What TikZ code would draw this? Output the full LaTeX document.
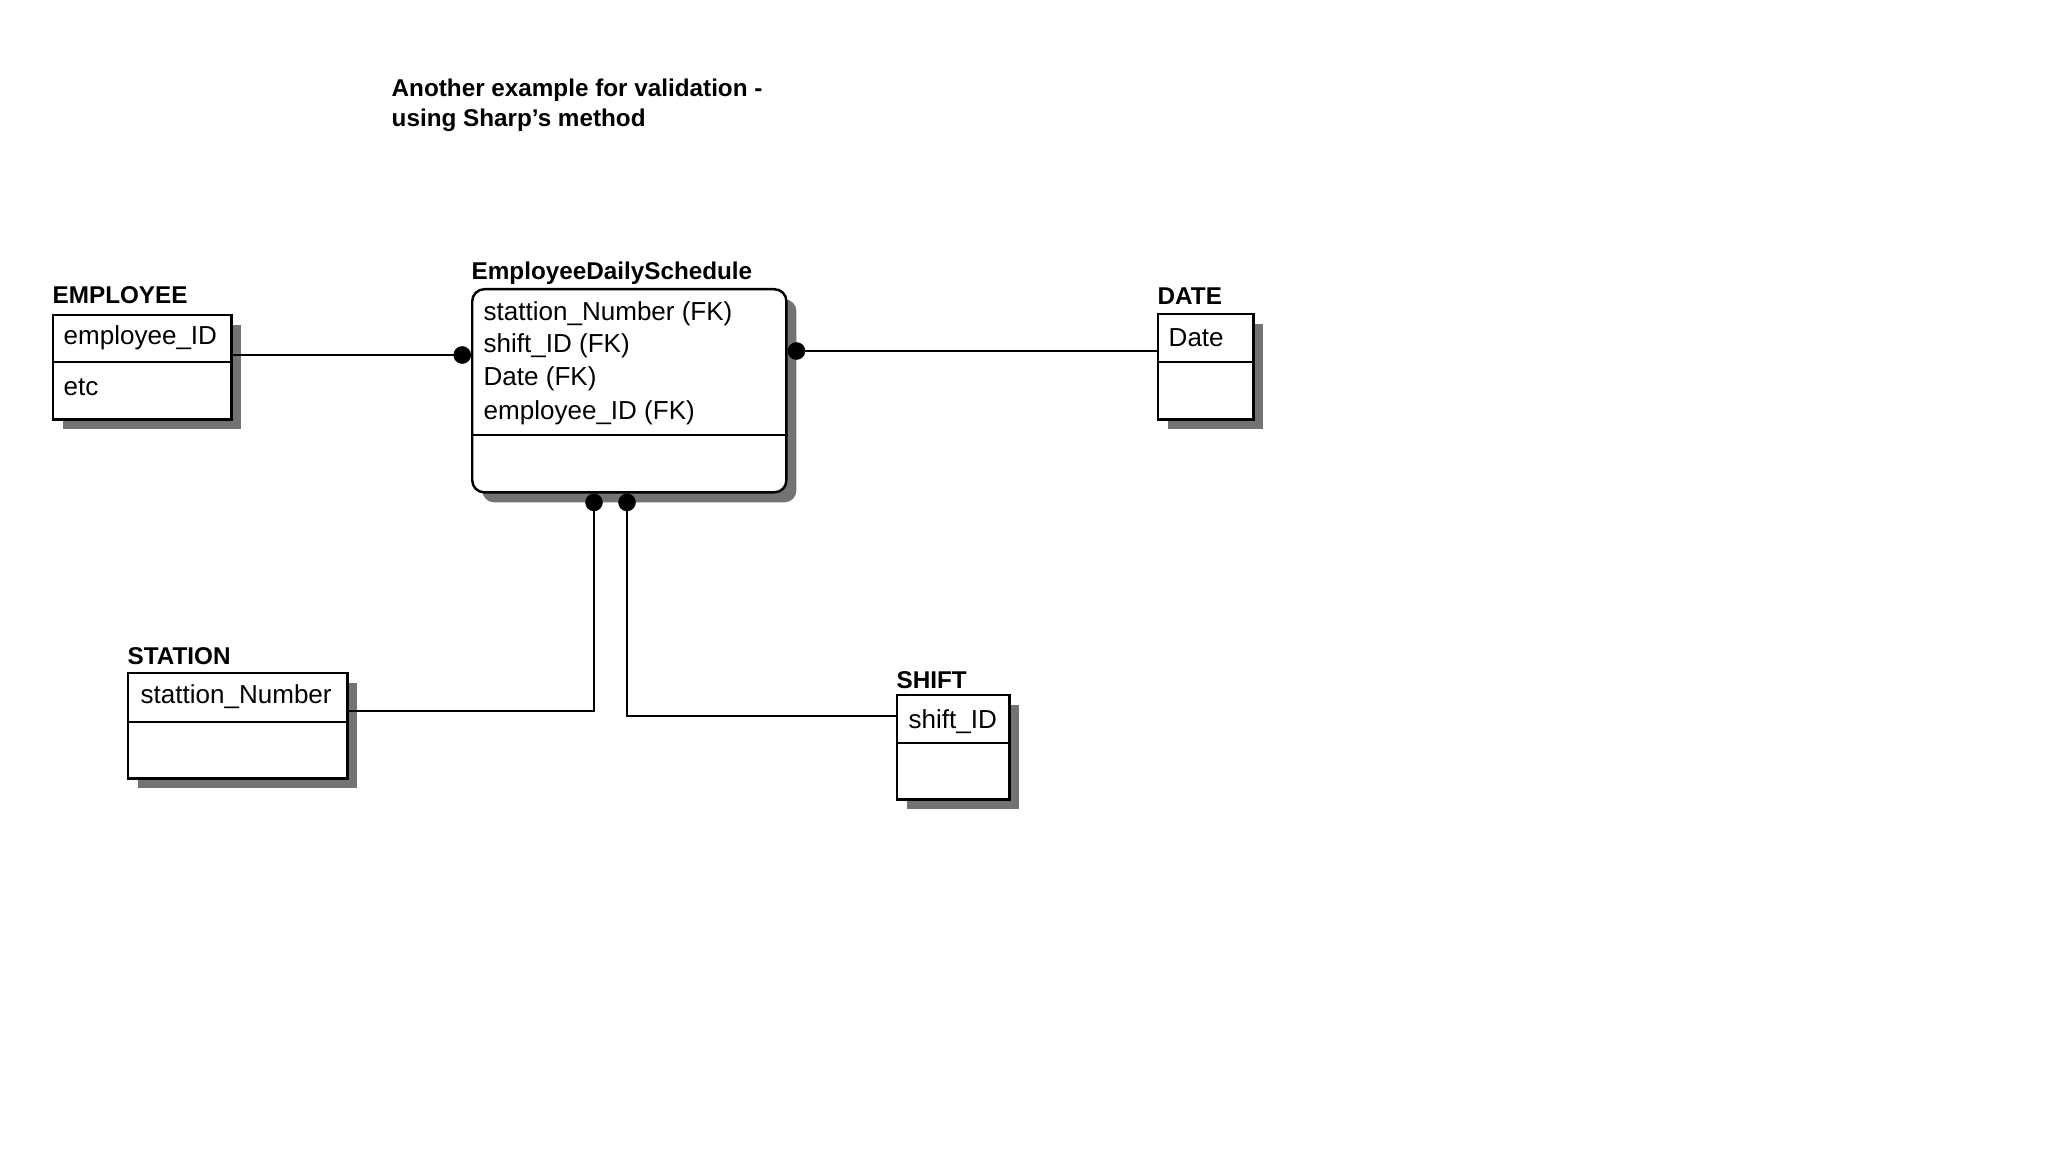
\documentclass[tikz,border=0pt]{standalone}
\usepackage{fontspec}
\setmainfont{Liberation Sans}
\usetikzlibrary{arrows.meta,shadows}

\tikzset{
  entity/.style={draw,line width=0.7pt,fill=white,inner sep=0,anchor=north west,
    drop shadow={shadow xshift=0.1cm,shadow yshift=-0.1cm,fill=black!55,opacity=1}},
  ename/.style={anchor=base west,inner sep=0,font=\fontsize{6.9}{8.5}\selectfont\bfseries},
  attr/.style={anchor=west,inner sep=0,font=\fontsize{7.4}{9}\selectfont},
  rel/.style={line width=0.6pt},
  erdot/.tip={Circle[length=5pt,width=5pt]}
}

\begin{document}
\begin{tikzpicture}[x=0.01cm,y=-0.01cm]
\useasboundingbox[fill=white] (0,0) rectangle (2046,1167);

\node[ename,anchor=north west,align=left] (title) at (391,78)
  {Another example for validation -\\using Sharp's method};

% entities
\node[entity,minimum width=1.78cm,minimum height=1.04cm] (emp) at (52,314) {};
\node[entity,rounded corners=0.12cm,minimum width=3.14cm,minimum height=2.03cm] (eds) at (471,288) {};
\node[entity,minimum width=0.95cm,minimum height=1.05cm] (date) at (1157,313) {};
\node[entity,minimum width=2.19cm,minimum height=1.05cm] (stat) at (127,672) {};
\node[entity,minimum width=1.12cm,minimum height=1.04cm] (shift) at (896,694) {};

\draw[line width=0.7pt] (emp.west|-0,362) -- (emp.east|-0,362);
\draw[line width=0.7pt] (eds.west|-0,435) -- (eds.east|-0,435);
\draw[line width=0.7pt] (date.west|-0,362) -- (date.east|-0,362);
\draw[line width=0.7pt] (stat.west|-0,722) -- (stat.east|-0,722);
\draw[line width=0.7pt] (shift.west|-0,743) -- (shift.east|-0,743);

% names
\node[ename] (empname) at (52,304) {EMPLOYEE};
\node[ename] (edsname) at (471,280) {EmployeeDailySchedule};
\node[ename] (datename) at (1157,305) {DATE};
\node[ename] (statname) at (127,664) {STATION};
\node[ename] (shiftname) at (896,688) {SHIFT};

% attributes
\node[attr] (empid) at (63,338) {employee\_ID};
\node[attr] (empetc) at (63,387) {etc};
\node[attr] (fk1) at (483,314) {stattion\_Number (FK)};
\node[attr] (fk2) at (483,346) {shift\_ID (FK)};
\node[attr] (fk3) at (483,379) {Date (FK)};
\node[attr] (fk4) at (483,413) {employee\_ID (FK)};
\node[attr] (dateid) at (1168,338) {Date};
\node[attr] (statid) at (140,697) {stattion\_Number};
\node[attr] (shiftid) at (908,722) {shift\_ID};

% relationships
\draw[rel,-erdot] (emp.east|-0,355) -- (eds.west|-0,355);
\draw[rel,erdot-] (eds.east|-0,351) -- (date.west|-0,351);
\draw[rel,erdot-] (eds.south-|594,0) |- (stat.east|-0,711);
\draw[rel,erdot-] (eds.south-|627,0) |- (shift.west|-0,716);
\end{tikzpicture}
\end{document}
